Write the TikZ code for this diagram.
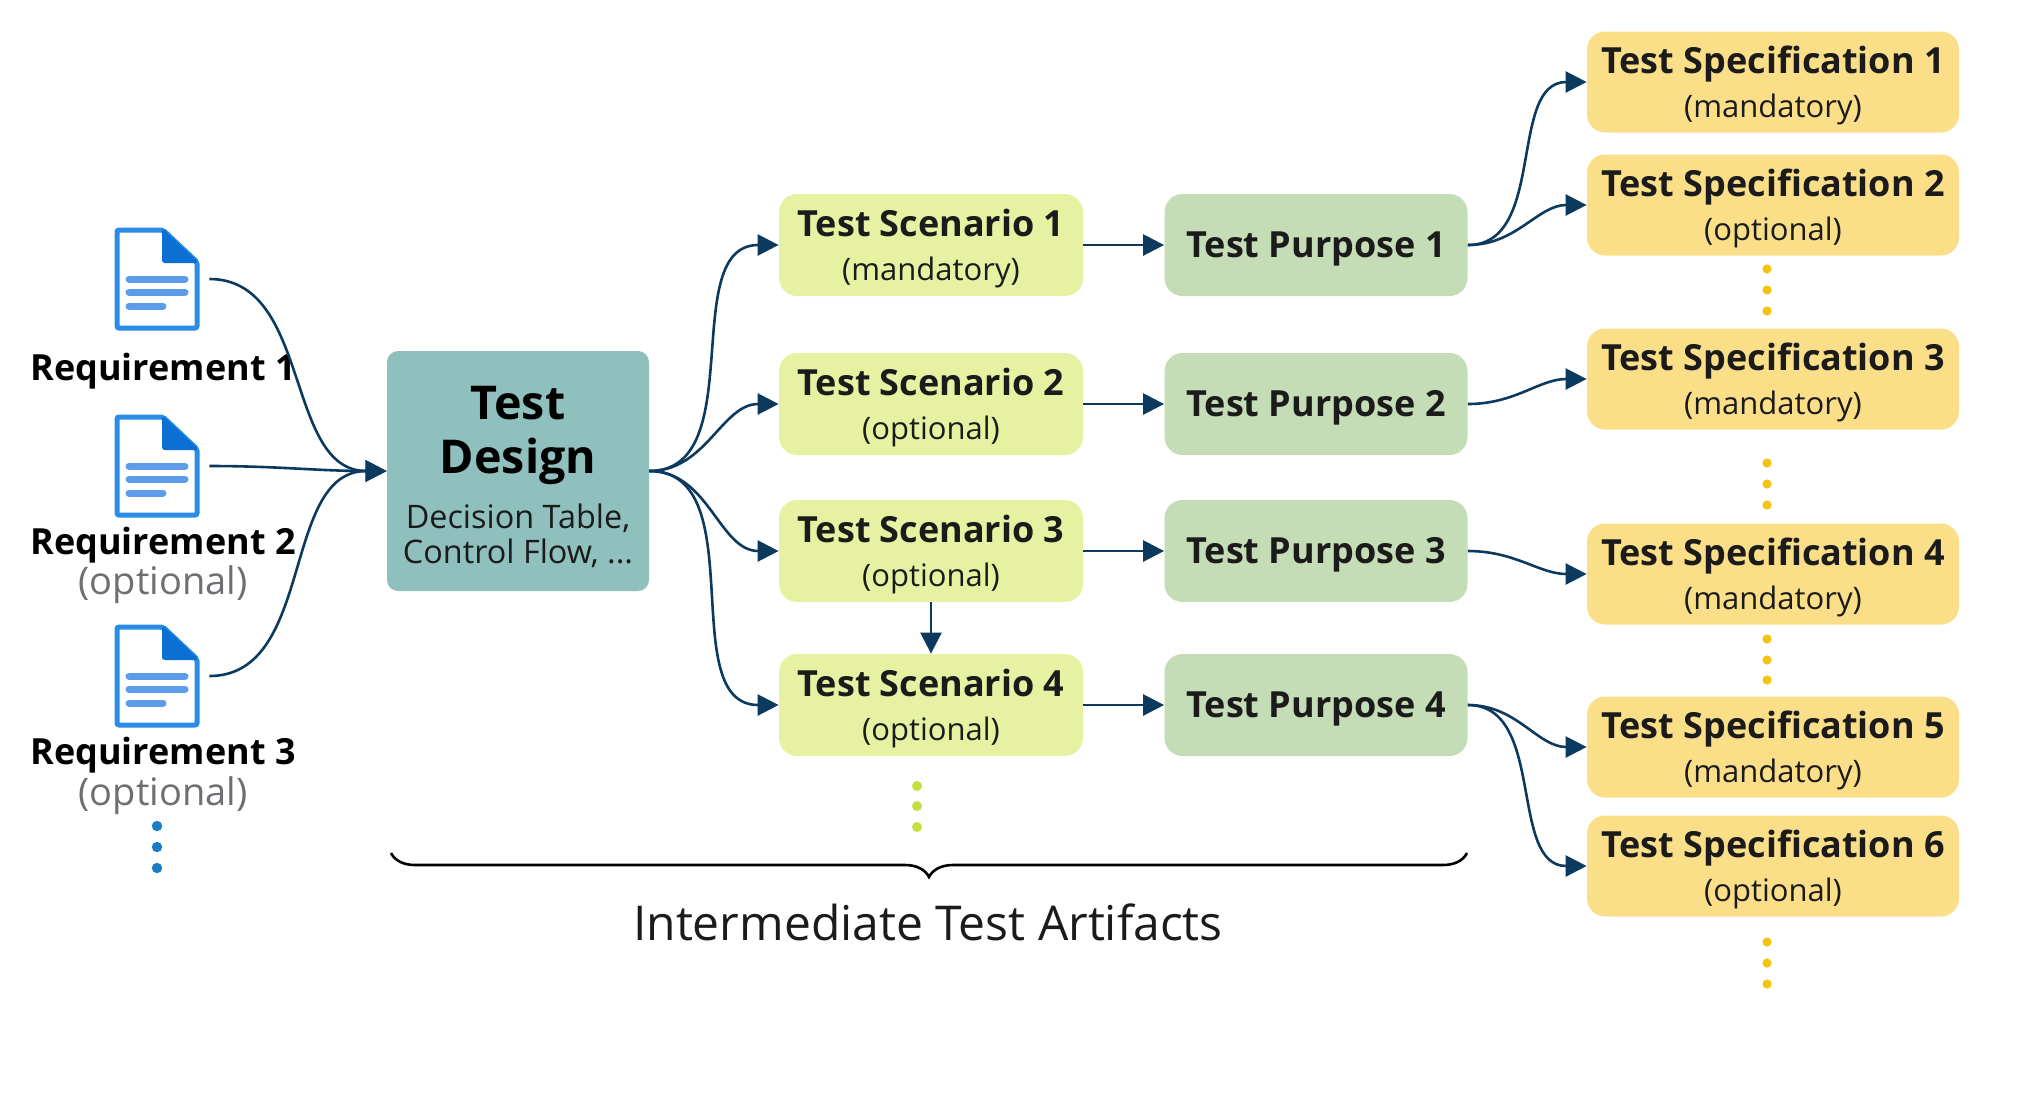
\documentclass[tikz,border=0pt]{standalone}
\usepackage{fontspec}
\setmainfont{Open Sans}
\usepackage{tikz}
\usetikzlibrary{arrows.meta,positioning,decorations.pathreplacing}

\definecolor{tdfill}{HTML}{8FC0BD}
\definecolor{scenfill}{HTML}{E6F2A2}
\definecolor{purpfill}{HTML}{C5DDB6}
\definecolor{specfill}{HTML}{FADF88}
\definecolor{arrcol}{HTML}{0C3A5E}
\definecolor{iconblue}{HTML}{2A8BE8}
\definecolor{iconfold}{HTML}{0B6FD3}
\definecolor{iconline}{HTML}{5C9CEB}
\definecolor{optgray}{HTML}{6E6E73}
\definecolor{dotblue}{HTML}{1A7DC3}
\definecolor{dotgreen}{HTML}{C6DE3E}
\definecolor{dotyellow}{HTML}{F5C412}
\definecolor{txtdark}{HTML}{1B1B1B}

\newcommand\sublbl[1]{{\fontsize{15.5}{22}\selectfont\mdseries #1}}
\newcommand\ttlstrut{\rule{0pt}{17pt}}

\tikzset{docicon/.pic={
  \filldraw[fill=white, draw=iconblue, line width=2.5pt, rounded corners=1pt] (-40,-49) -- (6,-49) -- (40,-17) -- (40,49) -- (-40,49) -- cycle;
  \filldraw[fill=iconfold, draw=iconfold, line width=1pt, rounded corners=1pt] (6,-49) -- (6,-17) -- (40,-17) -- cycle;
  \foreach \yy/\xe in {0/28, 13/28, 27/6}{\draw[iconline, line width=3.5pt, line cap=round] (-28,\yy) -- (\xe,\yy);}
}}

\begin{document}
\begin{tikzpicture}[x=0.5pt, y=-0.5pt,
  box/.style={rounded corners=9pt, inner sep=0pt, minimum height=51pt, text=txtdark, align=center, font=\fontsize{18}{22}\selectfont\bfseries},
  scen/.style={box, fill=scenfill, minimum width=152pt},
  purp/.style={box, fill=purpfill, minimum width=151.5pt},
  spec/.style={box, fill=specfill, minimum width=186pt, minimum height=50.5pt},
  tdbox/.style={fill=tdfill, rounded corners=5.5pt, inner sep=0pt, minimum width=131pt, minimum height=120pt},
  tdttl/.style={align=center, text=black, font=\fontsize{23.3}{27}\selectfont\bfseries},
  tdsub/.style={align=center, text=txtdark, font=\fontsize{16.2}{17.5}\selectfont},
  iconbox/.style={inner sep=0pt, minimum width=42pt, minimum height=51pt},
  reqlbl/.style={anchor=base, text=black, font=\fontsize{18}{22}\selectfont\bfseries},
  optlbl/.style={anchor=base, text=optgray, font=\fontsize{19}{22}\selectfont},
  arr/.style={draw=arrcol, line width=1.3pt, -{Triangle[length=10.5pt,width=10.5pt]}}]
\useasboundingbox (0,0) rectangle (2034,1094);

% requirements
\foreach \i/\y in {1/279, 2/466, 3/676}{
  \node[iconbox] (r\i) at (157,\y) {};
  \pic at (r\i) {docicon};
}
\node[reqlbl] (r1lbl) at (163,380) {Requirement 1};
\node[reqlbl] (r2lbl) at (163,554) {Requirement 2};
\node[optlbl] (r2opt) at (163,594) {(optional)};
\node[reqlbl] (r3lbl) at (163,764) {Requirement 3};
\node[optlbl] (r3opt) at (163,805) {(optional)};
\foreach \y in {826,847,868}{\fill[dotblue] (157,\y) circle (2.6pt);}

% test design
\node[tdbox] (td) at (518,471) {};
\node[tdttl] (tdname) at (518,435) {Test\\Design};
\node[tdsub] (tdkind) at (518,536) {Decision Table,\\Control Flow, ...};
\foreach \i in {1,2,3}{\draw[arr] ([xshift=5pt]r\i.east) to[out=0,in=180] (td.west);}

% scenarios and purposes
\foreach \i/\y/\o in {1/245/mandatory, 2/404/optional, 3/551/optional, 4/705/optional}{
  \node[scen] (s\i) at (931,\y) {\ttlstrut Test Scenario \i\\\sublbl{(\o)}};
  \node[purp] (p\i) at (1316,\y) {\ttlstrut Test Purpose \i};
  \draw[arr] (s\i) -- (p\i);
  \draw[arr] (td.east) to[out=0,in=180] (s\i.west);
}
\draw[arr] (s3) -- (s4);
\foreach \y in {786,806,827}{\fill[dotgreen] (917,\y) circle (2.5pt);}

% specifications
\foreach \i/\y/\o in {1/82/mandatory, 2/205/optional, 3/379/mandatory, 4/574/mandatory, 5/747/mandatory, 6/866/optional}{
  \node[spec] (t\i) at (1773,\y) {\ttlstrut Test Specification \i\\\sublbl{(\o)}};
}
\foreach \a/\b in {p1/t1, p1/t2, p2/t3, p3/t4, p4/t5, p4/t6}{\draw[arr] (\a.east) to[out=0,in=180] (\b.west);}
\foreach \y in {269,290,311, 463,484,505, 639,660,680, 942,963,984}{\fill[dotyellow] (1767,\y) circle (2.3pt);}

% brace
\coordinate (bl) at (391,853);
\coordinate (br) at (1467,853);
\draw[line width=1.3pt, decorate, decoration={brace, mirror, amplitude=12pt}] (bl) -- (br);
\node[font=\fontsize{24}{28}\selectfont, text=txtdark] (ita) at (928,922) {Intermediate Test Artifacts};
\end{tikzpicture}
\end{document}
